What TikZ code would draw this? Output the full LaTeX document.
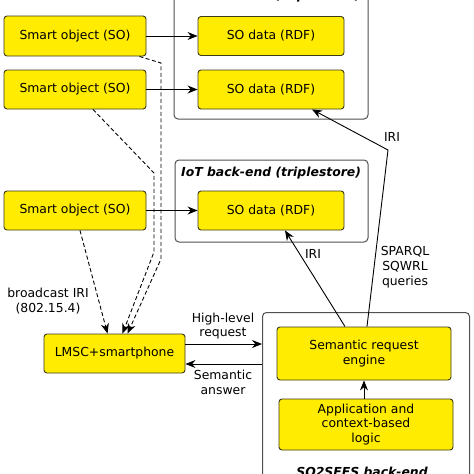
\documentclass[tikz,border=0pt]{standalone}
\usepackage{fontspec}
\setmainfont{DejaVu Sans}
\usetikzlibrary{arrows.meta}
\definecolor{boxyellow}{HTML}{FFEC00}
\definecolor{boxborder}{HTML}{3D3A1A}
\definecolor{contborder}{HTML}{505050}
\begin{document}
\begin{tikzpicture}[x=1pt,y=-1pt,
  every node/.style={font=\fontsize{12.4}{14.8}\selectfont, inner sep=0pt},
  ybox/.style={draw=boxborder, fill=boxyellow, rounded corners=3pt, line width=0.9pt, align=center},
  cont/.style={draw=contborder, rounded corners=4pt, line width=1pt},
  arr/.style={-{Stealth[length=10pt,width=8pt]}, line width=0.9pt},
  darr/.style={-{Stealth[length=10pt,width=8pt]}, line width=0.9pt, dash pattern=on 4pt off 2.5pt},
  lab/.style={align=center},
  ctitle/.style={font=\fontsize{12.4}{14}\selectfont\bfseries\itshape}
]
\useasboundingbox (0,0) rectangle (474,474);
\fill[white] (0,0) rectangle (474,474);
% containers
\draw[cont] (174,-30) rectangle (368,119);
\node[ctitle, anchor=base east] (t1) at (361,-1) {IoT back-end (triplestore)};
\draw[cont] (175,160) rectangle (368,242);
\node[ctitle, anchor=west] (t2) at (181,173) {IoT back-end (triplestore)};
\node[cont, minimum width=207pt, minimum height=200pt, anchor=north west] (back) at (262,312) {};
\node[ctitle, anchor=base] (t3) at (362,476) {SO2SEES back-end};
% boxes
\node[ybox, minimum width=142pt, minimum height=40pt] (so1) at (75,36) {Smart object (SO)};
\node[ybox, minimum width=142pt, minimum height=39pt] (so2) at (75,89.5) {Smart object (SO)};
\node[ybox, minimum width=142pt, minimum height=39pt] (so3) at (75,210.5) {Smart object (SO)};
\node[ybox, minimum width=146pt, minimum height=39pt] (sod1) at (271,36) {SO data (RDF)};
\node[ybox, minimum width=146pt, minimum height=39pt] (sod2) at (271,89.5) {SO data (RDF)};
\node[ybox, minimum width=146pt, minimum height=39pt] (sod3) at (271,210.5) {SO data (RDF)};
\node[ybox, minimum width=141pt, minimum height=39pt] (lmsc) at (114.5,353.5) {LMSC+smartphone};
\node[ybox, minimum width=174pt, minimum height=53pt] (eng) at (364,353.5) {Semantic request\\engine};
\node[ybox, minimum width=174pt, minimum height=51pt] (app) at (366,424.5) {Application and\\context-based\\logic};
% solid arrows
\draw[arr] (so1) -- (sod1);
\draw[arr] (so2) -- (sod2);
\draw[arr] (so3) -- (sod3);
\draw[arr] ([yshift=9.5pt]lmsc.east) -- ([yshift=9.5pt]lmsc.east -| back.west);
\draw[arr] ([yshift=-10.5pt]lmsc.east -| back.west) -- ([yshift=-10.5pt]lmsc.east);
\draw[arr] (app.north -| eng.south) -- (eng.south);
\draw[arr] ([xshift=-19pt]eng.north) -- ([xshift=14pt]sod3.south);
\coordinate (bend) at (388,150);
\draw[arr] ([xshift=3pt]eng.north) -- (bend) -- ([xshift=41pt]sod2.south);
% dashed arrows
\coordinate (a1) at (161,63);
\coordinate (a2) at (161,259);
\coordinate (b1) at (154,173);
\coordinate (b2) at (154,252);
\draw[darr] ([xshift=-7pt]so1.south east) -- (a1) -- (a2) -- ([xshift=13pt]lmsc.north);
\draw[darr] ([xshift=18pt]so2.south) -- (b1) -- (b2) -- ([xshift=8pt]lmsc.north);
\draw[darr] ([xshift=5pt]so3.south) -- ([xshift=-7pt]lmsc.north);
% labels
\node[lab] (l1) at (48,301) {broadcast IRI\\(802.15.4)};
\node[lab] (l2) at (223,326) {High-level\\request};
\node[lab] (l3) at (223,382.5) {Semantic\\answer};
\node[lab] (l4) at (313,254) {IRI};
\node[lab] (l5) at (392,137) {IRI};
\node[lab] (l6) at (405,267) {SPARQL\\SQWRL\\queries};
\end{tikzpicture}
\end{document}
